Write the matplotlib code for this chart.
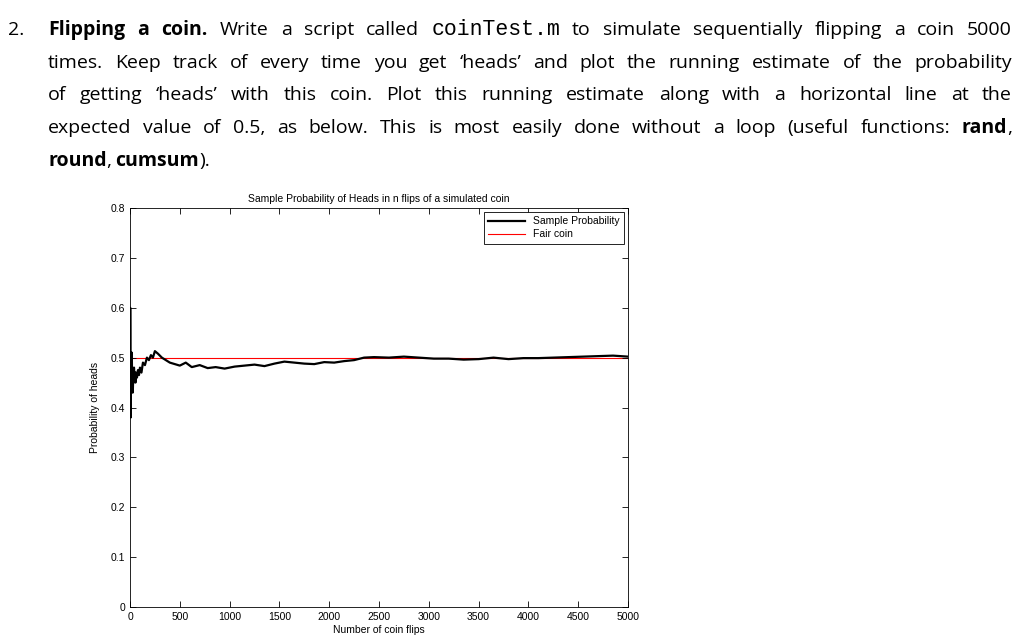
import matplotlib.pyplot as plt

# running estimate (n, P(heads))
flips = [1, 2, 3, 5, 7, 9, 12, 15, 18, 22, 25, 28, 32, 36, 40, 45, 50, 55, 60, 70, 80,
         90, 100, 115, 130, 150, 170, 190, 210, 230, 250, 280, 320, 360, 400, 450, 500,
         560, 620, 700, 780, 860, 950, 1050, 1150, 1250, 1350, 1450, 1550, 1650, 1750,
         1850, 1950, 2050, 2150, 2250, 2350, 2450, 2600, 2750, 2900, 3050, 3200, 3350,
         3500, 3650, 3800, 3950, 4100, 4250, 4400, 4550, 4700, 4850, 5000]
prob = [0.5, 0.6, 0.55, 0.42, 0.38, 0.45, 0.5, 0.43, 0.51, 0.44, 0.47, 0.43, 0.46,
        0.45, 0.48, 0.46, 0.47, 0.45, 0.47, 0.46, 0.475, 0.465, 0.48, 0.47, 0.49, 0.485,
        0.5, 0.495, 0.505, 0.5, 0.513, 0.508, 0.5, 0.495, 0.49, 0.487, 0.484, 0.49,
        0.481, 0.485, 0.479, 0.481, 0.478, 0.482, 0.484, 0.486, 0.483, 0.488, 0.492,
        0.49, 0.488, 0.487, 0.491, 0.49, 0.493, 0.495, 0.5, 0.501, 0.5, 0.502, 0.5,
        0.498, 0.498, 0.496, 0.497, 0.5, 0.497, 0.499, 0.499, 0.5, 0.501, 0.502,
        0.503, 0.504, 0.502]
fair = 0.5

W, H = 1024, 642
fig = plt.figure(figsize=(W / 100, H / 100), dpi=100)
renderer = fig.canvas.get_renderer()

# ---- paragraph above the chart ----
TXT = 'Open Sans'
MONO = 'Liberation Mono'
FS = 14
lines = [
    [('Flipping a coin.', 'b'), (' Write a script called ', 'n'), ('coinTest.m', 'm'),
     (' to simulate sequentially flipping a coin 5000', 'n')],
    [('times. Keep track of every time you get \u2018heads\u2019 and plot the running estimate of the probability', 'n')],
    [('of getting \u2018heads\u2019 with this coin. Plot this running estimate along with a horizontal line at the', 'n')],
    [('expected value of 0.5, as below. This is most easily done without a loop (useful functions: ', 'n'),
     ('rand', 'b'), (',', 'n')],
    [('round', 'b'), (', ', 'n'), ('cumsum', 'b'), (').', 'n')],
]
baselines = [35, 68, 100, 133, 166]
x0, x1 = 48, 1012


def style(k):
    if k == 'm':
        return dict(family=MONO, fontsize=FS + 1.5)
    return dict(family=TXT, fontsize=FS, fontweight='bold' if k == 'b' else 'normal')


fig.text(8 / W, 1 - baselines[0] / H, '2.', va='baseline', **style('n'))
for i, (segs, yb) in enumerate(zip(lines, baselines)):
    # split into words (keeping style) so lines can be justified
    words = []
    pending_space = False
    for s, k in segs:
        cur = ''
        for ch in s:
            if ch == ' ':
                if cur:
                    words.append((cur, k, pending_space))
                    cur = ''
                pending_space = True
            else:
                if not cur and words and not pending_space:
                    pass
                cur += ch
        if cur:
            words.append((cur, k, pending_space))
            pending_space = False
    artists = []
    for w, k, sp in words:
        t = fig.text(0, 1 - yb / H, w, va='baseline', **style(k))
        artists.append((t, sp))
    widths = [t.get_window_extent(renderer).width for t, _ in artists]
    nsp = sum(1 for idx, (_, sp) in enumerate(artists) if sp and idx > 0)
    space = 4.0
    if i < 4 and nsp:
        space = (x1 - x0 - sum(widths)) / nsp
    x = x0
    for idx, ((t, sp), wd) in enumerate(zip(artists, widths)):
        if idx > 0 and sp:
            x += space
        t.set_x(x / W)
        x += wd

# ---- chart ----
CF = 'Liberation Sans'
ax = fig.add_axes([130 / W, 1 - 607 / H, (628 - 130) / W, (607 - 208) / H])
ax.axhline(fair, color='red', lw=0.8, zorder=1)
ax.plot(flips, prob, color='black', lw=1.6, zorder=2)
ax.set_xlim(0, 5000)
ax.set_ylim(0, 0.8)
ax.set_xticks(range(0, 5001, 500))
ax.set_yticks([0, 0.1, 0.2, 0.3, 0.4, 0.5, 0.6, 0.7, 0.8])
ax.set_yticklabels(['0', '0.1', '0.2', '0.3', '0.4', '0.5', '0.6', '0.7', '0.8'])
ax.tick_params(direction='in', length=4, labelsize=7.5, top=True, right=True, width=0.6)
for lab in ax.get_xticklabels() + ax.get_yticklabels():
    lab.set_family(CF)
for s in ax.spines.values():
    s.set_linewidth(0.6)
ax.set_title('Sample Probability of Heads in n flips of a simulated coin',
             fontsize=7.5, family=CF, pad=4)
ax.set_xlabel('Number of coin flips', fontsize=7.5, family=CF, labelpad=2)
ax.set_ylabel('Probability of heads', fontsize=7.5, family=CF, labelpad=8)
h1, = ax.plot([], [], color='black', lw=1.6, label='Sample Probability')
h2, = ax.plot([], [], color='red', lw=0.8, label='Fair coin')
leg = ax.legend(handles=[h1, h2], loc='upper right', fancybox=False, framealpha=1,
                edgecolor='black', prop={'family': CF, 'size': 7.5},
                borderaxespad=0.4, handlelength=3.5, labelspacing=0.3)
leg.get_frame().set_linewidth(0.6)

fig.savefig('out.png', dpi=100)
